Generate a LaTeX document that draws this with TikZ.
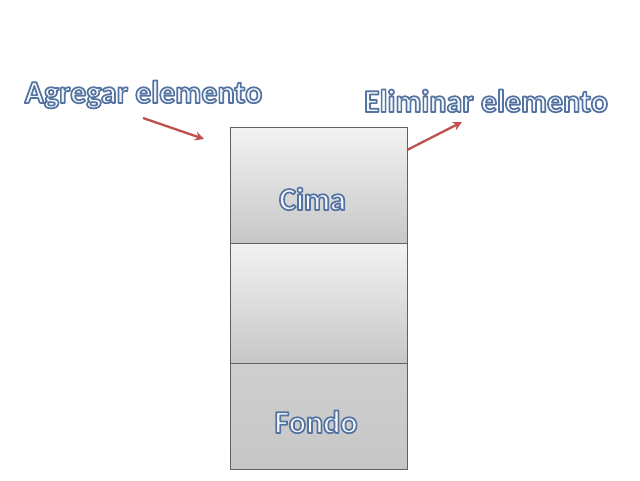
\documentclass[tikz,border=0pt]{standalone}
\usepackage{fontspec}
\setmainfont{Carlito}
\usetikzlibrary{arrows.meta}
\definecolor{txtfill}{RGB}{244,248,253}
\definecolor{arrred}{RGB}{192,80,77}
\definecolor{boxline}{RGB}{96,96,96}
\newcommand{\outlinedtext}[1]{%
  \special{pdf:code 2 Tr 1.7 w 1 j 0.33 0.45 0.63 RG}#1\special{pdf:code 0 Tr}}
\tikzset{
  lbl/.style={font=\fontsize{32}{38}\selectfont\bfseries,text=txtfill,inner sep=0pt,anchor=base},
  stackbox/.style={draw=boxline,line width=0.8pt,inner sep=0pt,anchor=north west,minimum width=177pt},
  redarrow/.style={draw=arrred,line width=2.3pt,-{Stealth[length=9pt,width=9pt]}}
}
\begin{document}
\begin{tikzpicture}[x=1pt,y=-1pt]
\fill[white] (0,0) rectangle (640,480);
\useasboundingbox (0,0) rectangle (640,480);
\node[stackbox,minimum height=116pt,top color=gray!10,bottom color=gray!44] (b1) at (230,127) {};
\node[stackbox,minimum height=120pt,top color=gray!10,bottom color=gray!44] (b2) at (230,243) {};
\node[stackbox,minimum height=106pt,top color=gray!38,bottom color=gray!44] (b3) at (230,363) {};
\node[lbl] (cima) at (312.5,210) {\outlinedtext{Cima}};
\node[lbl] (fondo) at (316,433) {\outlinedtext{Fondo}};
\node[lbl] (agregar) at (143.5,103) {\outlinedtext{Agregar elemento}};
\node[lbl] (eliminar) at (486,112) {\outlinedtext{Eliminar elemento}};
\coordinate (a1s) at (143,118);
\coordinate (a1e) at (204,139);
\coordinate (a2s) at (407,150);
\coordinate (a2e) at (462,122);
\draw[redarrow] (a1s) -- (a1e);
\draw[redarrow] (a2s) -- (a2e);
\end{tikzpicture}
\end{document}
